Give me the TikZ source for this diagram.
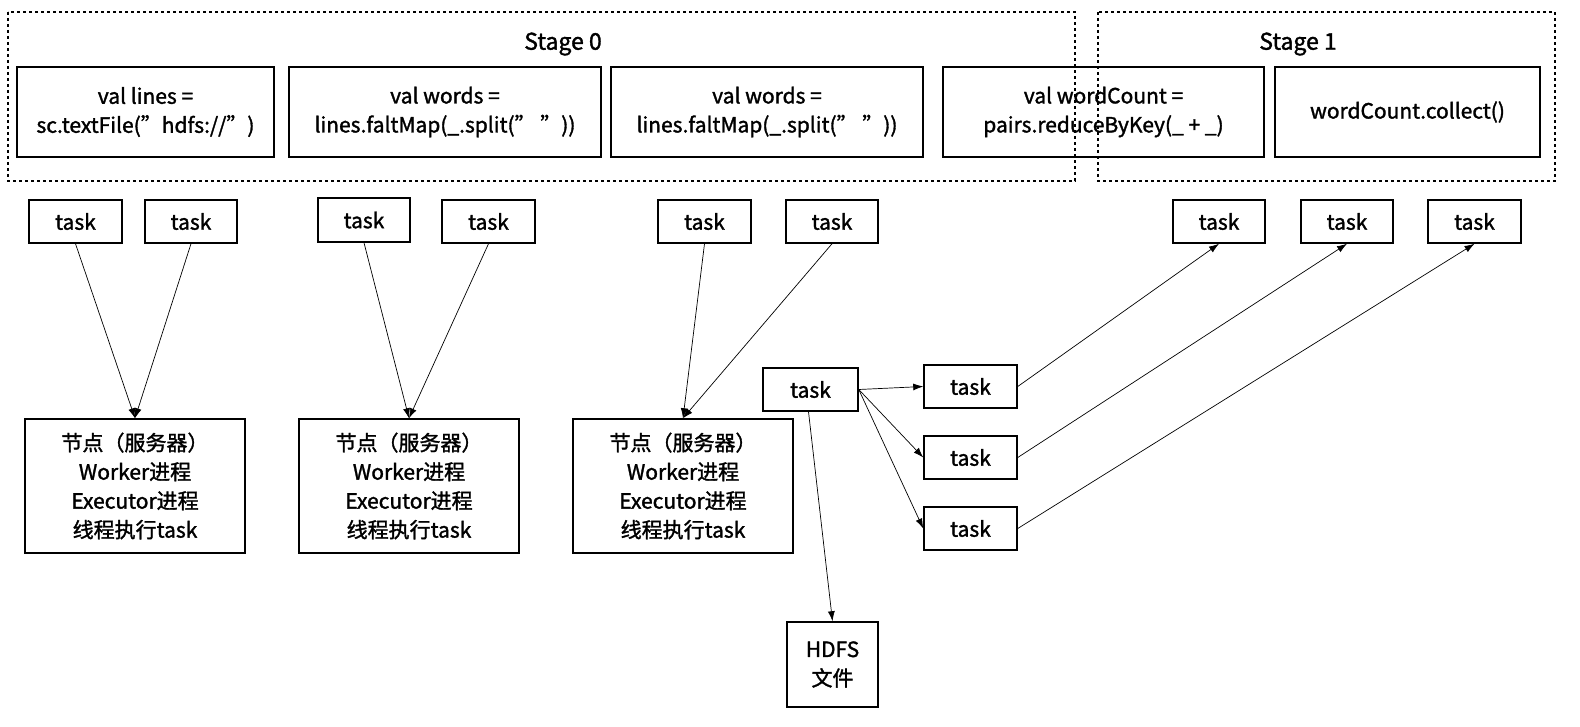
\documentclass[tikz,border=0pt]{standalone}
\usepackage{fontspec}
\setmainfont{Noto Sans CJK SC}[AutoFakeBold=1.5]
\usetikzlibrary{arrows.meta}
\begin{document}
\begin{tikzpicture}[x=1pt,y=-1pt,
  bx/.style={draw,line width=1.5pt,align=center,font=\fontsize{21}{29}\selectfont\bfseries,inner sep=0},
  st/.style={draw,dashed,line width=1.2pt},
  ar/.style={-{Latex[length=10,width=7]},line width=0.7pt}]
\useasboundingbox (0,0) rectangle (1580,727);
\draw[st] (8,12) rectangle (1075,181);
\draw[st] (1098,12) rectangle (1555,181);
\node[font=\fontsize{23}{26}\selectfont\bfseries] (s0) at (563,44) {Stage 0};
\node[font=\fontsize{23}{26}\selectfont\bfseries] (s1) at (1298,44) {Stage 1};
\newcommand\bbox[6]{\node[bx,minimum width=#4-#2,minimum height=#5-#3] (#1) at ({(#2+#4)/2},{(#3+#5)/2}) {#6};}
\bbox{c1}{17}{67}{274}{157}{val lines =\\sc.textFile("hdfs://")}
\bbox{c2}{289}{67}{601}{157}{val words =\\lines.faltMap(\_.split(" "))}
\bbox{c3}{611}{67}{923}{157}{val words =\\lines.faltMap(\_.split(" "))}
\bbox{c4}{943}{67}{1264}{157}{val wordCount =\\pairs.reduceByKey(\_ + \_)}
\bbox{c5}{1275}{67}{1540}{157}{wordCount.collect()}
\bbox{t1}{29}{200}{122}{243}{task}
\bbox{t2}{145}{200}{237}{243}{task}
\bbox{t3}{318}{198}{410}{242}{task}
\bbox{t4}{442}{200}{535}{243}{task}
\bbox{t5}{658}{200}{751}{243}{task}
\bbox{t6}{786}{200}{878}{243}{task}
\bbox{t7}{1173}{200}{1265}{243}{task}
\bbox{t8}{1301}{200}{1393}{243}{task}
\bbox{t9}{1428}{200}{1521}{243}{task}
\bbox{n1}{25}{419}{245}{553}{节点（服务器）\\Worker进程\\Executor进程\\线程执行task}
\bbox{n2}{299}{419}{519}{553}{节点（服务器）\\Worker进程\\Executor进程\\线程执行task}
\bbox{n3}{573}{419}{793}{553}{节点（服务器）\\Worker进程\\Executor进程\\线程执行task}
\bbox{m}{763}{368}{858}{411}{task}
\bbox{r1}{924}{365}{1017}{408}{task}
\bbox{r2}{924}{436}{1017}{479}{task}
\bbox{r3}{924}{507}{1017}{550}{task}
\bbox{h}{787}{622}{878}{707}{HDFS\\文件}
\draw[ar] (t1.south) -- (n1.north);
\draw[ar] (t2.south) -- (n1.north);
\draw[ar] (t3.south) -- (n2.north);
\draw[ar] (t4.south) -- (n2.north);
\draw[ar] (t5.south) -- (n3.north);
\draw[ar] (t6.south) -- (n3.north);
\draw[ar] (m.east) -- (r1.west);
\draw[ar] (m.east) -- (r2.west);
\draw[ar] (m.east) -- (r3.west);
\draw[ar] ([xshift=-2]m.south) -- (h.north);
\draw[ar] (r1.east) -- (t7.south);
\draw[ar] (r2.east) -- (t8.south);
\draw[ar] (r3.east) -- (t9.south);
\end{tikzpicture}
\end{document}
